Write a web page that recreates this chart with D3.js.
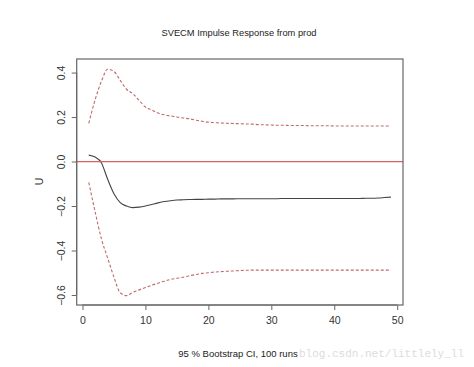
<!DOCTYPE html>
<html><head><meta charset="utf-8">
<script src="https://cdn.jsdelivr.net/npm/d3@7"></script>
<style>body{margin:0;background:#fff}svg{display:block}</style>
</head><body>
<svg id="c" width="474" height="367"></svg>
<script>
const steps = d3.range(1, 50);
const irf = [0.029,0.02,-0.005,-0.08,-0.145,-0.185,-0.2,-0.207,-0.205,-0.2,-0.193,-0.186,-0.18,-0.176,-0.173,-0.172,-0.171,-0.17,-0.17,-0.169,-0.169,-0.168,-0.168,-0.168,-0.167,-0.167,-0.167,-0.167,-0.167,-0.167,-0.167,-0.166,-0.166,-0.166,-0.166,-0.166,-0.166,-0.166,-0.166,-0.166,-0.166,-0.166,-0.166,-0.166,-0.165,-0.165,-0.164,-0.162,-0.16];
const upper = [0.172,0.277,0.36,0.415,0.405,0.365,0.325,0.305,0.275,0.245,0.232,0.218,0.21,0.205,0.2,0.196,0.192,0.186,0.181,0.177,0.175,0.173,0.172,0.171,0.17,0.169,0.168,0.166,0.165,0.164,0.163,0.163,0.162,0.162,0.162,0.161,0.161,0.161,0.161,0.16,0.16,0.16,0.16,0.16,0.16,0.16,0.16,0.16,0.16];
const lower = [-0.094,-0.225,-0.347,-0.434,-0.52,-0.59,-0.603,-0.588,-0.577,-0.566,-0.556,-0.547,-0.538,-0.53,-0.525,-0.52,-0.514,-0.508,-0.503,-0.5,-0.497,-0.495,-0.493,-0.492,-0.49,-0.489,-0.488,-0.488,-0.488,-0.488,-0.488,-0.488,-0.488,-0.488,-0.488,-0.488,-0.488,-0.488,-0.488,-0.488,-0.488,-0.488,-0.488,-0.488,-0.488,-0.488,-0.488,-0.488,-0.488];
const xTicks = [0,10,20,30,40,50];
const yTicks = [-0.6,-0.4,-0.2,0.0,0.2,0.4];
const title = "SVECM Impulse Response from prod";
const yLabel = "U";
const footer = "95 % Bootstrap CI, 100 runs";

const svg = d3.select("#c");
const L = 76.7, R = 403, T = 59, B = 305;
const x = d3.scaleLinear().domain([-0.92, 50.92]).range([L, R]);
const y = d3.scaleLinear().domain([-0.645, 0.461]).range([B, T]);
const font = "'Liberation Sans', Arial, sans-serif";

const line = d3.line().x((d, i) => x(steps[i])).y(d => y(d)).curve(d3.curveMonotoneX);
svg.append("path").attr("d", line(upper)).attr("fill", "none")
  .attr("stroke", "#c06a6a").attr("stroke-width", 1.1).attr("stroke-dasharray", "3,2");
svg.append("path").attr("d", line(lower)).attr("fill", "none")
  .attr("stroke", "#c06a6a").attr("stroke-width", 1.1).attr("stroke-dasharray", "3,2");
svg.append("path").attr("d", line(irf)).attr("fill", "none")
  .attr("stroke", "#444").attr("stroke-width", 1.1);

// zero line (drawn on top, red)
svg.append("line").attr("x1", L).attr("x2", R).attr("y1", y(0)).attr("y2", y(0))
  .attr("stroke", "#d86060").attr("stroke-width", 1.2);

// box
svg.append("rect").attr("x", L).attr("y", T).attr("width", R - L).attr("height", B - T)
  .attr("fill", "none").attr("stroke", "#666").attr("stroke-width", 1.2);

// x axis
const xa = svg.append("g").attr("transform", `translate(0,${B})`)
  .call(d3.axisBottom(x).tickValues(xTicks).tickSize(5).tickPadding(7).tickFormat(d3.format("d")));
xa.select(".domain").attr("d", `M${x(0)},0H${x(50)}`).attr("stroke", "#666");
xa.selectAll("line").attr("stroke", "#666");
xa.selectAll("text").attr("font-family", font).attr("font-size", 10.5).attr("fill", "#333");

// y axis
const ya = svg.append("g").attr("transform", `translate(${L},0)`)
  .call(d3.axisLeft(y).tickValues(yTicks).tickSize(5).tickFormat(d3.format(".1f")));
ya.select(".domain").attr("d", `M0,${y(-0.6)}V${y(0.4)}`).attr("stroke", "#666");
ya.selectAll("line").attr("stroke", "#666");
ya.selectAll(".tick text").attr("x", null).attr("dy", null)
  .attr("transform", "translate(-12,0) rotate(-90)")
  .attr("text-anchor", "middle").attr("font-family", font).attr("font-size", 10.5).attr("fill", "#333");

svg.append("text").attr("x", 239).attr("y", 36).attr("text-anchor", "middle")
  .attr("font-family", font).attr("font-size", 9.3).attr("fill", "#222").text(title);
svg.append("text").attr("transform", `translate(43,${y(-0.09)}) rotate(-90)`).attr("text-anchor", "middle")
  .attr("font-family", font).attr("font-size", 10.5).attr("fill", "#333").text(yLabel);
svg.append("text").attr("x", 238).attr("y", 357).attr("text-anchor", "middle")
  .attr("font-family", font).attr("font-size", 9.5).attr("fill", "#222").text(footer);
svg.append("text").attr("x", 299).attr("y", 357)
  .attr("font-family", "'Liberation Mono', monospace").attr("font-size", 11).attr("fill", "#dcdcdc")
  .text("blog.csdn.net/littlely_ll");
</script>
</body></html>
